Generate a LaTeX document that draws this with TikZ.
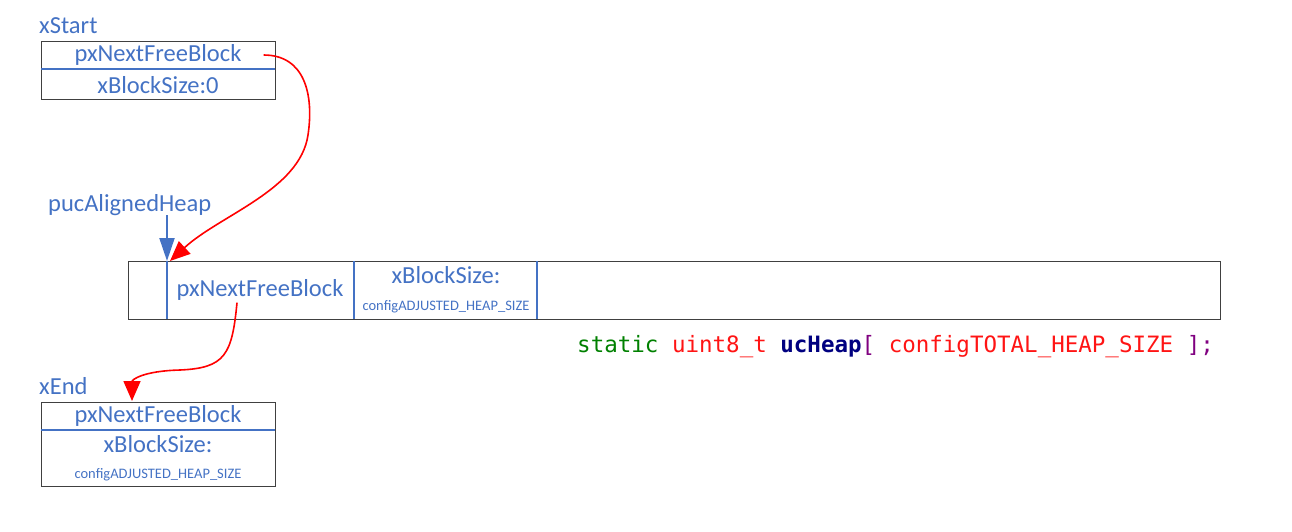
\documentclass[tikz,border=0pt]{standalone}
\usepackage{fontspec}
\setmainfont{Carlito}
\setmonofont{DejaVu Sans Mono}
\usetikzlibrary{arrows.meta,positioning}
\definecolor{fieldblue}{RGB}{68,114,196}
\definecolor{ptrred}{RGB}{255,0,0}
\definecolor{codegreen}{RGB}{0,128,0}
\definecolor{codered}{RGB}{255,20,20}
\definecolor{codenavy}{RGB}{0,0,128}
\definecolor{codepurple}{RGB}{128,0,128}
\definecolor{boxgray}{RGB}{64,64,64}

\begin{document}
\begin{tikzpicture}[x=1pt, y=-1pt,
    field/.style={text=fieldblue, inner sep=0pt, font=\fontsize{24.5}{26}\selectfont},
    small/.style={text=fieldblue, inner sep=0pt, font=\fontsize{14.5}{16}\selectfont},
    memblock/.style={draw=boxgray, line width=1.2pt, inner sep=0pt, anchor=north west},
    divider/.style={draw=fieldblue, line width=2pt},
    pointer/.style={draw=ptrred, line width=1.6pt, -{Triangle[length=20pt, width=17pt]}}]
            \useasboundingbox (0,0) rectangle (1292,531);

            % xStart
            \node[field, anchor=base west] (startlbl) at (39,33) {xStart};
            \node[memblock, minimum width=234pt, minimum height=58pt] (startbox) at (41,41) {};
            \draw[divider] (41,69) -- (275,69);
            \node[field] (startnext) at (158,55) {pxNextFreeBlock};
            \node[field] (startsize) at (158,85) {xBlockSize:0};

            % ucHeap
            \node[field, anchor=base west] (aligned) at (48,211) {pucAlignedHeap};
            \node[memblock, minimum width=1092pt, minimum height=58pt] (heap) at (128,261) {};
            \foreach \x in {167,354,537} {
                \draw[divider] (\x,261) -- (\x,319);
            }
            \node[field] (heapnext) at (260,290) {pxNextFreeBlock};
            \node[field] (heapsize) at (446,275) {xBlockSize:};
            \node[small] (heapcfg) at (446,307) {configADJUSTED\_HEAP\_SIZE};
            \coordinate (alignedtop) at (167,261);

            % Declaración
            \node[anchor=base west, inner sep=0pt, font=\ttfamily\fontsize{22.5}{24}\selectfont] (decl) at (577,352)
                {\textcolor{codegreen}{static} \textcolor{codered}{uint8\_t} \textcolor{codenavy}{\bfseries ucHeap}\textcolor{codepurple}{[} \textcolor{codered}{configTOTAL\_HEAP\_SIZE} \textcolor{codepurple}{];}};

            % xEnd
            \node[field, anchor=base west] (endlbl) at (39,394) {xEnd};
            \node[memblock, minimum width=234pt, minimum height=84pt] (endbox) at (41,402) {};
            \draw[divider] (41,430) -- (275,430);
            \node[field] (endnext) at (158,416) {pxNextFreeBlock};
            \node[field] (endsize) at (158,444) {xBlockSize:};
            \node[small] (endcfg) at (158,475) {configADJUSTED\_HEAP\_SIZE};
            \coordinate (endtop) at (132,401);

            % Punteros
            \draw[draw=fieldblue, line width=2pt, -{Triangle[length=23pt, width=15pt]}]
                (aligned.south -| alignedtop) -- (alignedtop);
            \draw[pointer] ([xshift=22pt]startnext.east) .. controls (305,55) and (314,95) .. (308,135)
                .. controls (300,190) and (220,215) .. ([xshift=3pt]alignedtop);
            \draw[pointer] ([yshift=-2pt]heapnext.south -| 237,0) .. controls (232,355) and (225,368) .. (180,370)
                .. controls (142,371) and (132,380) .. (endtop);
\end{tikzpicture}
\end{document}
